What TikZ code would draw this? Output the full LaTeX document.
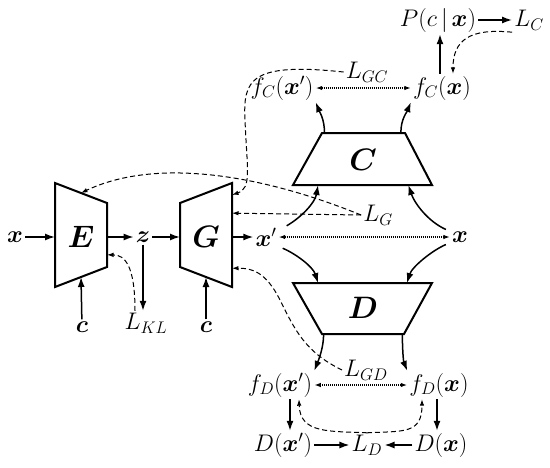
\RequirePackage{fix-cm}
\documentclass[tikz,border=0pt]{standalone}
\usepackage{bm}
\usetikzlibrary{arrows.meta,calc}

\tikzstyle{block} = [line width = 2pt, line join = miter]
\tikzstyle{lbl} = [inner sep = 2pt, font = \fontsize{24}{28}\selectfont]
\tikzstyle{big} = [inner sep = 2pt, font = \fontsize{31}{35}\selectfont]
\tikzstyle{arr} = [line width = 1.5pt, -{Latex[length = 10pt, width = 7pt]}]
\tikzstyle{dasharr} = [line width = 1pt, dash pattern = on 5pt off 3pt,
	-{Latex[length = 6.5pt, width = 4.5pt]}]
\tikzstyle{dotarr} = [line width = 1.3pt, dash pattern = on 1pt off 1pt,
	{Latex[length = 6.5pt, width = 4.5pt]}-{Latex[length = 6.5pt, width = 4.5pt]}]

\begin{document}
\begin{tikzpicture}[x = 1pt, y = -1pt]
\useasboundingbox (0,0) rectangle (550,467);

% the four networks
\coordinate (E-nw) at (55,183);
\coordinate (E-ne) at (107,203);
\coordinate (E-se) at (107,267);
\coordinate (E-sw) at (55,287);
\coordinate (G-nw) at (180,203);
\coordinate (G-ne) at (232,183);
\coordinate (G-se) at (232,287);
\coordinate (G-sw) at (180,267);
\coordinate (C-nw) at (322,133);
\coordinate (C-ne) at (405,133);
\coordinate (C-se) at (432,185);
\coordinate (C-sw) at (293,185);
\coordinate (D-nw) at (293,283);
\coordinate (D-ne) at (432,283);
\coordinate (D-se) at (404,334);
\coordinate (D-sw) at (322,334);

\draw [block] (E-nw) -- (E-ne) -- (E-se) -- (E-sw) -- cycle;
\draw [block] (G-nw) -- (G-ne) -- (G-se) -- (G-sw) -- cycle;
\draw [block] (C-nw) -- (C-ne) -- (C-se) -- (C-sw) -- cycle;
\draw [block] (D-nw) -- (D-ne) -- (D-se) -- (D-sw) -- cycle;

\node (E) [big] at (81,237) {$\bm{E}$};
\node (G) [big] at (206,237) {$\bm{G}$};
\node (C) [big] at (363,160) {$\bm{C}$};
\node (D) [big] at (363,308) {$\bm{D}$};

% variables and losses
\node (xin) [lbl] at (15,237) {$\bm{x}$};
\node (z) [lbl] at (143,237) {$\bm{z}$};
\node (cE) [lbl] at (82,327) {$\bm{c}$};
\node (cG) [lbl] at (206,327) {$\bm{c}$};
\node (LKL) [lbl] at (146,323) {$L_{KL}$};
\node (xp) [lbl] at (266,237) {$\bm{x}'$};
\node (xr) [lbl] at (460,237) {$\bm{x}$};
\node (LG) [lbl] at (378,215) {$L_{G}$};
\node (fCp) [lbl] at (282,88) {$f_{C}(\bm{x}')$};
\node (fCx) [lbl] at (442,88) {$f_{C}(\bm{x})$};
\node (LGC) [lbl] at (367,72) {$L_{GC}$};
\node (P) [lbl] at (438,20) {$P(c\,|\,\bm{x})$};
\node (LC) [lbl] at (529,20) {$L_{C}$};
\node (LGD) [lbl] at (366,370) {$L_{GD}$};
\node (fDp) [lbl] at (280,385) {$f_{D}(\bm{x}')$};
\node (fDx) [lbl] at (439,385) {$f_{D}(\bm{x})$};
\node (Dp) [lbl] at (283,445) {$D(\bm{x}')$};
\node (LD) [lbl] at (367,445) {$L_{D}$};
\node (Dx) [lbl] at (441,445) {$D(\bm{x})$};

% forward path
\draw [arr] (xin) -- (xin -| E-nw);
\draw [arr] (E-ne |- z) -- (z);
\draw [arr] (z) -- (z -| G-nw);
\draw [arr] (G-ne |- xp) -- (xp);
\draw [arr] (cE) -- ($(E-sw)!0.5!(E-se)$);
\draw [arr] (cG) -- ($(G-sw)!0.5!(G-se)$);
\draw [arr] (z.south) -- (z.south |- LKL.north);
\draw [dotarr] (xp) -- (xr);

\draw [arr] ([xshift=8]xp.north east) .. controls +(14,-8) and +(-3,18) .. ($(C-sw)!0.18!(C-se)$);
\draw [arr] ([xshift=-4]xr.north west) .. controls +(-18,-8) and +(6,18) .. ($(C-sw)!0.83!(C-se)$);
\draw [arr] ([xshift=4]xp.south east) .. controls +(14,6) and +(-5,-16) .. ($(D-nw)!0.18!(D-ne)$);
\draw [arr] ([xshift=-4]xr.south west) .. controls +(-14,6) and +(5,-16) .. ($(D-nw)!0.82!(D-ne)$);

\draw [arr] ($(C-nw)!0.03!(C-ne)$) .. controls +(0,-14) and +(4,10) .. (fCp.south east);
\draw [arr] ($(C-nw)!0.95!(C-ne)$) .. controls +(0,-14) and +(-4,10) .. (fCx.south west);
\draw [dotarr] (fCp) -- (fCx);
\draw [arr] ([xshift=-2]fCx.north) -- ([xshift=-2]fCx.north |- P.south);
\draw [arr] (P) -- (LC);

\draw [arr] ($(D-sw)!0.02!(D-se)$) .. controls +(0,14) and +(4,-10) .. (fDp.north east);
\draw [arr] ($(D-sw)!0.98!(D-se)$) .. controls +(0,14) and +(-4,-10) .. (fDx.north west);
\draw [dotarr] (fDp) -- (fDx);
\draw [arr] ([xshift=10]fDp.south) -- ([xshift=10]fDp.south |- Dp.north);
\draw [arr] ([xshift=-2]fDx.south) -- ([xshift=-2]fDx.south |- Dx.north);
\draw [arr] (Dp) -- (LD);
\draw [arr] (Dx) -- (LD);

% gradients of the losses
\draw [dasharr] ([xshift=-11]LKL.north) .. controls +(0,-45) and +(18,0) .. ($(E-ne)!0.81!(E-se)$);
\draw [dasharr] (LC.south west) .. controls (470,28) and (453,40) .. ([xshift=11]fCx.north);
\draw [dasharr] (LGC.west) .. controls (250,62) and (243,80) .. (245,120)
	.. controls (247,170) and (252,188) .. ($(G-ne)!0.115!(G-se)$);
\draw [dasharr] (LG.west) .. controls (250,170) and (150,160) .. ($(E-nw)!0.5!(E-ne)$);
\draw [dasharr] (LG.west) -- ($(G-ne)!0.29!(G-se)$);
\draw [dasharr] (LGD.west) .. controls (305,352) and (295,330) .. (280,300)
	.. controls (266,272) and (252,268) .. ($(G-ne)!0.82!(G-se)$);
\draw [dasharr] (LD.north) .. controls (330,431) and (300,434) .. ([xshift=19]fDp.south);
\draw [dasharr] (LD.north) .. controls (404,431) and (422,434) .. ([xshift=-17]fDx.south);

\end{tikzpicture}
\end{document}
